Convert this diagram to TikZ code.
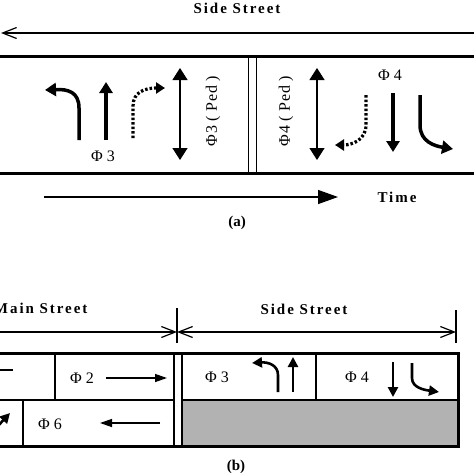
\documentclass[tikz,border=0pt]{standalone}
\usepackage{fontspec}
\setmainfont{Liberation Serif}
\newfontfamily\spacedfont[LetterSpace=13]{Liberation Serif}
\newfontfamily\pedfont[LetterSpace=4]{Liberation Serif}
\usetikzlibrary{arrows.meta}

\begin{document}
\begin{tikzpicture}[
    x=1pt, y=-1pt,
    heading/.style={font=\spacedfont\fontsize{15}{17}\selectfont\bfseries},
    phase/.style={font=\fontsize{16}{18}\selectfont},
    ped/.style={font=\pedfont\fontsize{16}{18}\selectfont, rotate=90},
    border/.style={line width=3pt},
    cell/.style={line width=1.3pt},
    dimline/.style={line width=1.2pt},
    barb/.tip={Straight Barb[length=14pt,width=11pt,line width=1.2pt]},
    pedarrow/.style={line width=1.3pt, {Triangle[length=12pt,width=15pt]}-{Triangle[length=12pt,width=15pt]}},
    timearrow/.style={line width=1.4pt, -{Triangle[length=20pt,width=14pt]}},
    turn/.style={line width=3.5pt, -{Triangle[length=11pt,width=13pt]}},
    dotturn/.style={line width=3.2pt, dash pattern=on 2.5pt off 2pt, -{Triangle[length=9pt,width=11pt]}},
    smallturn/.style={line width=2.6pt, -{Triangle[length=10pt,width=10pt]}},
    flow/.style={line width=1.3pt, -{Triangle[length=12pt,width=8pt]}}
]
\useasboundingbox (0,0) rectangle (474,474);
\clip (0,0) rectangle (474,474);

% (a) side street phases
\node[heading] (sideA) at (237,8.5) {Side Street};
\coordinate (sideAR) at (480,33);
\coordinate (sideAL) at (1,33);
\draw[dimline, -barb] (sideAR) -- (sideAL);

\draw[border] (-5,56) -- (480,56);
\draw[border] (-5,173.5) -- (480,173.5);
\draw[cell, line width=1pt] (248,56) -- (248,173.5);
\draw[cell, line width=1pt] (256,56) -- (256,173.5);

% phase 3 movements
\draw[turn] (79,140) -- (79,108) .. controls (79,92) and (68,89) .. (45,90);
\draw[turn] (106,140) -- (106,82);
\draw[dotturn] (133,138) -- (133,106) .. controls (133,92) and (145,88) .. (165,88);
\node[phase] (phi3a) at (103,156) {Φ 3};
\draw[pedarrow] (180,68) -- (180,160);
\node[ped] (ped3) at (213,111) {Φ3 ( Ped )};

% phase 4 movements
\node[ped] (ped4) at (286,111) {Φ4 ( Ped )};
\draw[pedarrow] (317,68) -- (317,160);
\node[phase] (phi4a) at (390,75) {Φ 4};
\draw[dotturn] (366,95) -- (366,125) .. controls (366,140) and (352,145) .. (335,145);
\draw[turn] (393,93) -- (393,152);
\draw[turn] (420,95) -- (420,125) .. controls (420,142) and (435,146) .. (453,149);

% time axis
\coordinate (timeL) at (44,197);
\coordinate (timeR) at (338,197);
\draw[timearrow] (timeL) -- (timeR);
\node[heading] (time) at (397,197) {Time};
\node[font=\fontsize{15}{17}\selectfont\bfseries] (capA) at (237,223) {(a)};

% (b) main and side street split
\node[heading, anchor=east] (mainB) at (91,308) {Main Street};
\node[heading] (sideB) at (304,309) {Side Street};
\coordinate (mainL) at (-5,332);
\coordinate (split) at (177,332);
\coordinate (sideR) at (456,332);
\draw[dimline, -barb] (mainL) -- (split);
\draw[dimline, barb-barb] (split) -- (sideR);
\draw[dimline] (177,308) -- (177,343);
\draw[dimline] (456,310) -- (456,343);

% ring barrier
\fill[black!30] (182,400) rectangle (458,446);
\draw[border] (-5,353) -- (458,353) -- (458,446) -- (-5,446);
\draw[cell, line width=1.6pt] (-5,400) -- (174,400);
\draw[cell, line width=1.6pt] (182,400) -- (458,400);
\draw[cell] (55,353) -- (55,400);
\draw[cell] (316,353) -- (316,400);
\draw[cell] (23,400) -- (23,446);
\draw[cell] (174,353) -- (174,446);
\draw[cell] (182,353) -- (182,446);

% ring 1
\draw[cell] (-5,370) -- (13,370);
\node[phase] (phi2) at (82,378) {Φ 2};
\draw[flow] (106,378) -- (167,378);
\node[phase] (phi3b) at (217,377) {Φ 3};
\draw[smallturn] (278,392) -- (278,375) .. controls (278,365) and (268,362) .. (252,363);
\draw[smallturn] (293,392) -- (293,357);
\node[phase] (phi4b) at (357,377) {Φ 4};
\draw[smallturn] (393,362) -- (393,397);
\draw[smallturn] (412,363) -- (412,378) .. controls (412,388) and (425,390) .. (439,392);

% ring 2
\draw[smallturn] (-4,428) -- (10,413);
\node[phase] (phi6) at (50,424) {Φ 6};
\draw[flow] (160,423) -- (100,423);
\node[font=\fontsize{15}{17}\selectfont\bfseries] (capB) at (236,467) {(b)};

\end{tikzpicture}
\end{document}
